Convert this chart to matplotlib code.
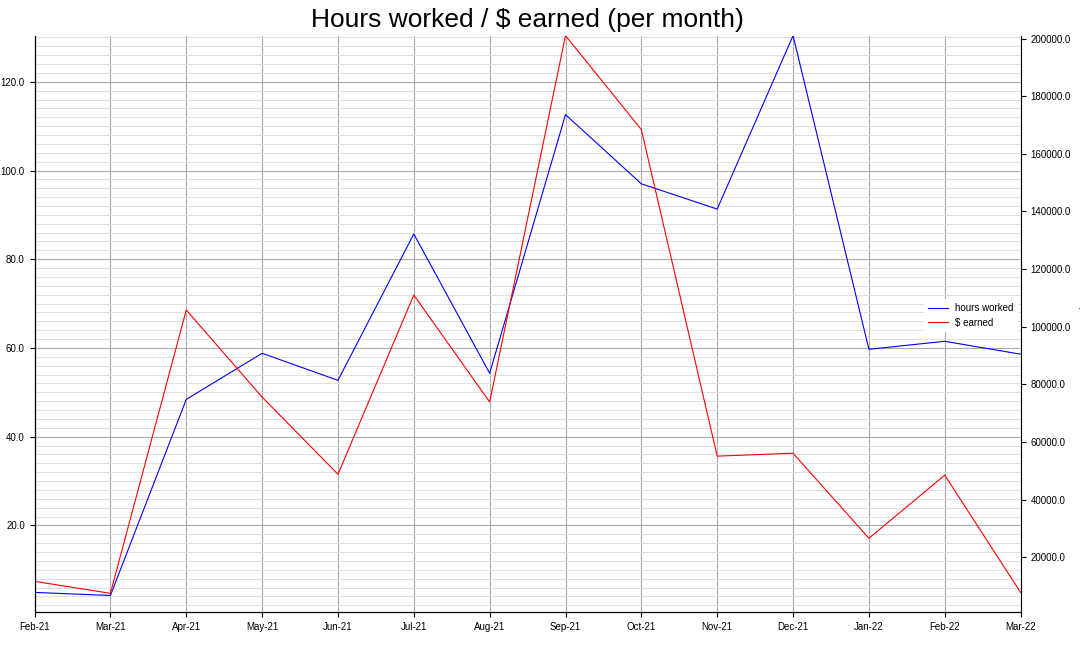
import matplotlib.pyplot as plt
from matplotlib.ticker import MultipleLocator, FormatStrFormatter

plt.rcParams['font.family'] = ['Liberation Sans', 'DejaVu Sans']

months = ['Feb-21', 'Mar-21', 'Apr-21', 'May-21', 'Jun-21', 'Jul-21', 'Aug-21',
          'Sep-21', 'Oct-21', 'Nov-21', 'Dec-21', 'Jan-22', 'Feb-22', 'Mar-22']
hours = [4.9, 4.2, 48.4, 58.8, 52.7, 85.7, 54.3, 112.6, 97.0, 91.3, 130.4, 59.7, 61.5, 58.6]
earned = [11660, 7490, 105800, 75600, 48800, 111000, 73900, 201000, 168400,
          55100, 56100, 26600, 48500, 7800]

fig, ax = plt.subplots(figsize=(10.8, 6.48), dpi=100)
x = range(len(months))
l1, = ax.plot(x, hours, color='blue', lw=0.8, label='hours worked')
ax.set_xlim(0, len(months) - 1)
ax.set_ylim(0.4, 130.4)
ax.set_xticks(list(x))
ax.set_xticklabels(months, fontsize=7)
ax.yaxis.set_major_locator(MultipleLocator(20))
ax.yaxis.set_minor_locator(MultipleLocator(2))
ax.yaxis.set_major_formatter(FormatStrFormatter('%.1f'))
ax.tick_params(labelsize=7)
ax.tick_params(which='minor', length=0)
ax.grid(which='major', color='#aaaaaa', lw=0.8)
ax.grid(which='minor', axis='y', color='#e0e0e0', lw=0.7)
ax.set_ylabel('Hours worked', fontsize=7)
for s in ['top', 'right']:
    ax.spines[s].set_visible(False)

ax2 = ax.twinx()
l2, = ax2.plot(x, earned, color='red', lw=0.8, label='$ earned')
ax2.set_ylim(890, 201000)
ax2.yaxis.set_major_locator(MultipleLocator(20000))
ax2.yaxis.set_major_formatter(FormatStrFormatter('%.1f'))
ax2.tick_params(labelsize=7)
ax2.set_ylabel('$ earned', fontsize=7, rotation=270, labelpad=12)
ax2.spines['top'].set_visible(False)

ax2.legend([l1, l2], ['hours worked', '$ earned'], loc='center right', fontsize=7,
           bbox_to_anchor=(1.0, 0.515), borderaxespad=0.3,
           frameon=True, edgecolor='none', framealpha=1)
ax.set_title('Hours worked / $ earned (per month)', fontsize=19)
fig.subplots_adjust(left=0.032, right=0.945, top=0.945, bottom=0.055)
fig.savefig('out.png')
